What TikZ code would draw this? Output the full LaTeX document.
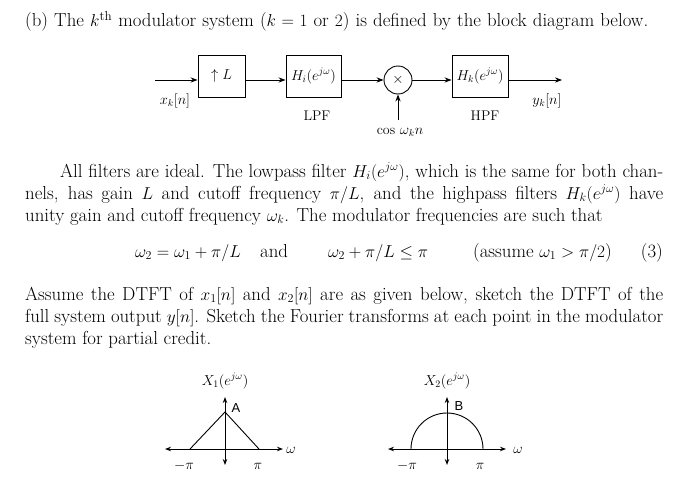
\documentclass[tikz,border=0pt]{standalone}
\usepackage{amsmath}
\usepackage{fontspec}
\newfontfamily\sansf{Liberation Sans}
\usetikzlibrary{arrows.meta}
\begin{document}
\begin{tikzpicture}[x=1pt,y=-1pt,
  blk/.style={draw,line width=0.9pt,minimum width=47pt,minimum height=42pt,inner sep=0pt,font=\fontsize{14}{16}\selectfont},
  sig/.style={line width=0.9pt,-{Stealth[length=7pt]}},
  ax/.style={line width=1pt,{Stealth[length=6pt]}-{Stealth[length=6pt]}},
  txt/.style={font=\fontsize{18.8}{22}\selectfont,inner sep=0pt},
  sm/.style={inner sep=0pt,font=\fontsize{14}{16}\selectfont},
  pl/.style={inner sep=0pt,font=\fontsize{14}{16}\selectfont}]
\useasboundingbox (0,0) rectangle (695,503);
\node[txt,anchor=base west] (l1) at (25,27) {\makebox[623pt][s]{(b) The $k^{\text{th}}$ modulator system ($k=1$ or $2$) is defined by the block diagram below.}};
% block diagram
\coordinate (in) at (155,80);
\node[blk] (up) at (221.5,76) {$\uparrow L$};
\node[blk,minimum width=55pt] (lpf) at (313.5,76) {$H_i(e^{j\omega})$};
\node[draw,circle,line width=0.9pt,minimum size=28pt,inner sep=0pt,font=\fontsize{14}{16}\selectfont] (mix) at (398,80) {$\times$};
\node[blk,minimum width=56pt] (hpf) at (480,76) {$H_k(e^{j\omega})$};
\coordinate (out) at (562,80);
\coordinate (cs) at (398,120);
\draw[sig] (in) -- (in -| up.west);
\draw[sig] (up.east |- in) -- (in -| lpf.west);
\draw[sig] (lpf.east |- in) -- (mix.west);
\draw[sig] (mix.east) -- (in -| hpf.west);
\draw[sig] (hpf.east |- in) -- (out);
\draw[sig] (cs) -- (mix.south);
\node[sm] (xk) at (175,101) {$x_k[n]$};
\node[sm] (yk) at (547,101) {$y_k[n]$};
\node[sm] (lp) at (317,116) {LPF};
\node[sm] (hp) at (485,116) {HPF};
\node[sm] (cl) at (400,132) {$\cos\,\omega_k n$};
% paragraph 1
\node[txt,anchor=base west] (p1a) at (60,177) {\makebox[603pt][s]{All filters are ideal. The lowpass filter $H_i(e^{j\omega})$, which is the same for both chan-}};
\node[txt,anchor=base west] (p1b) at (25,199) {\makebox[638pt][s]{nels, has gain $L$ and cutoff frequency $\pi/L$, and the highpass filters $H_k(e^{j\omega})$ have}};
\node[txt,anchor=base west] (p1c) at (25,221) {unity gain and cutoff frequency $\omega_k$. The modulator frequencies are such that};
\node[txt,anchor=base west] (e1) at (135,257) {$\omega_2=\omega_1+\pi/L$};
\node[txt,anchor=base west] (e2) at (260,257) {and};
\node[txt,anchor=base west] (e3) at (328,257) {$\omega_2+\pi/L\le\pi$};
\node[txt,anchor=base west] (e4) at (473,257) {(assume $\omega_1>\pi/2$)};
\node[txt,anchor=base east] (e5) at (663,257) {(3)};
\node[txt,anchor=base west] (p2a) at (25,300) {\makebox[638pt][s]{Assume the DTFT of $x_1[n]$ and $x_2[n]$ are as given below, sketch the DTFT of the}};
\node[txt,anchor=base west] (p2b) at (25,322) {\makebox[638pt][s]{full system output $y[n]$. Sketch the Fourier transforms at each point in the modulator}};
\node[txt,anchor=base west] (p2c) at (25,344) {system for partial credit.};
% plot 1
\coordinate (a1l) at (165,449); \coordinate (a1r) at (283,449);
\coordinate (v1t) at (225,397); \coordinate (v1b) at (225,465);
\draw[ax] (a1l) -- (a1r);
\draw[ax] (v1b) -- (v1t);
\draw[line width=0.9pt] (190,449) -- (225,412) -- (259,449);
\node[pl] (pm1) at (184,466) {$-\pi$};
\node[pl] (pp1) at (258,466) {$\pi$};
\node[pl] (w1) at (291,450) {$\omega$};
\node[pl,font=\sansf\fontsize{13}{15}\selectfont] (A) at (236,408) {A};
\node[pl] (X1) at (225,381) {$X_1(e^{j\omega})$};
% plot 2
\coordinate (a2l) at (388,449); \coordinate (a2r) at (506,449);
\coordinate (v2t) at (447,397); \coordinate (v2b) at (447,465);
\draw[ax] (a2l) -- (a2r);
\draw[ax] (v2b) -- (v2t);
\draw[line width=0.9pt] (411,449) arc[start angle=180,end angle=0,x radius=36,y radius=-36];
\node[pl] (pm2) at (407,466) {$-\pi$};
\node[pl] (pp2) at (480,466) {$\pi$};
\node[pl] (w2) at (518,450) {$\omega$};
\node[pl,font=\sansf\fontsize{13}{15}\selectfont] (B) at (459,406) {B};
\node[pl] (X2) at (447,381) {$X_2(e^{j\omega})$};
\end{tikzpicture}
\end{document}
